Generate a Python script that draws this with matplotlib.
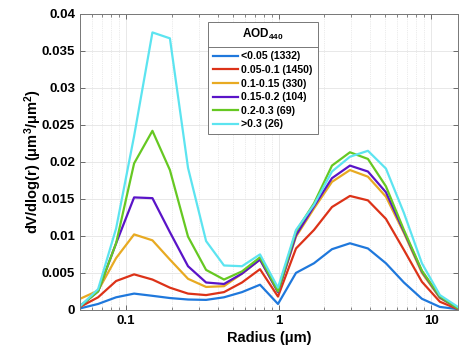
import matplotlib

matplotlib.use("Agg")

import matplotlib.pyplot as plt
from matplotlib.lines import Line2D
from matplotlib.ticker import LogLocator, FixedLocator, NullFormatter

plt.rcParams["font.family"] = ["Liberation Sans", "DejaVu Sans"]
plt.rcParams["font.weight"] = "bold"
plt.rcParams["mathtext.fontset"] = "custom"
plt.rcParams["mathtext.rm"] = "Liberation Sans:bold"
plt.rcParams["mathtext.bf"] = "Liberation Sans:bold"
plt.rcParams["mathtext.default"] = "bf"

# AERONET radius bins (um)
radius = [0.05, 0.0656, 0.0861, 0.113, 0.149, 0.194, 0.255, 0.335, 0.439, 0.576, 0.756,
          0.992, 1.302, 1.708, 2.241, 2.94, 3.857, 5.061, 6.641, 8.713, 11.43, 15.0]

aod_lt005 = [0.0002, 0.0008, 0.0017, 0.0022, 0.0019, 0.0016, 0.0014, 0.00135, 0.0017, 0.0024, 0.0034,
             0.0008, 0.0050, 0.0063, 0.0082, 0.0090, 0.0083, 0.0063, 0.0037, 0.0015, 0.0004, 0.0001]
aod_005_01 = [0.0004, 0.0017, 0.0039, 0.0048, 0.0041, 0.0030, 0.0022, 0.0020, 0.0024, 0.0037, 0.0055,
              0.0018, 0.0083, 0.0108, 0.0139, 0.0154, 0.0148, 0.0123, 0.0081, 0.0038, 0.0011, 0.0001]
aod_01_015 = [0.0015, 0.0026, 0.0070, 0.0102, 0.0094, 0.0068, 0.0042, 0.0031, 0.0032, 0.0049, 0.0068,
              0.0024, 0.0099, 0.0137, 0.0173, 0.0189, 0.0180, 0.0153, 0.0104, 0.0050, 0.0016, 0.0002]
aod_015_02 = [0.0005, 0.0025, 0.0090, 0.0152, 0.0151, 0.0105, 0.0059, 0.0037, 0.0035, 0.0049, 0.0068,
              0.0024, 0.0101, 0.0140, 0.0178, 0.0195, 0.0187, 0.0159, 0.0106, 0.0052, 0.0017, 0.0002]
aod_02_03 = [0.0005, 0.0025, 0.0090, 0.0198, 0.0242, 0.0189, 0.0099, 0.0054, 0.0041, 0.0052, 0.0071,
             0.0025, 0.0106, 0.0144, 0.0195, 0.0213, 0.0204, 0.0167, 0.0108, 0.0053, 0.0018, 0.0002]
aod_gt03 = [0.0005, 0.0028, 0.0110, 0.0235, 0.0375, 0.0367, 0.0192, 0.0093, 0.0060, 0.0059, 0.0075,
            0.0030, 0.0108, 0.0142, 0.0187, 0.0207, 0.0215, 0.0191, 0.0131, 0.0063, 0.0020, 0.0004]

labels = ["<0.05 (1332)", "0.05-0.1 (1450)", "0.1-0.15 (330)",
          "0.15-0.2 (104)", "0.2-0.3 (69)", ">0.3 (26)"]
series = [aod_lt005, aod_005_01, aod_01_015, aod_015_02, aod_02_03, aod_gt03]
colors = ["#1f78dc", "#dc3218", "#e8aa22", "#5a14c8", "#66c822", "#5ce4f0"]

y_ticks = [0, 0.005, 0.01, 0.015, 0.02, 0.025, 0.03, 0.035, 0.04]
y_tick_labels = ["0", "0.005", "0.01", "0.015", "0.02", "0.025", "0.03", "0.035", "0.04"]

fig = plt.figure(figsize=(4.74, 3.57), dpi=100)
ax = fig.add_axes([0.169, 0.132, 0.797, 0.829])

for vals, lab, col in zip(series, labels, colors):
    ax.plot(radius, vals, color=col, lw=1.6, label=lab)

ax.set_xscale("log")
ax.set_xlim(0.05, 15)
ax.set_ylim(0, 0.04)
ax.yaxis.set_major_locator(FixedLocator(y_ticks))
ax.set_yticklabels(y_tick_labels)
ax.xaxis.set_major_locator(FixedLocator([0.1, 1, 10]))
ax.set_xticklabels(["0.1", "1", "10"])
ax.xaxis.set_minor_locator(LogLocator(base=10, subs=range(2, 10)))
ax.xaxis.set_minor_formatter(NullFormatter())

ax.grid(True, which="major", color="#e4e4e4", lw=0.6)
ax.grid(True, which="minor", axis="x", color="#d8d8d8", lw=0.5, ls=":")
ax.set_axisbelow(True)

ax.tick_params(which="both", direction="in", top=True, right=True, colors="#555555",
               labelcolor="black", labelsize=9.5)
ax.tick_params(which="major", length=3.5, width=0.6)
ax.tick_params(which="minor", length=2, width=0.5)
for sp in ax.spines.values():
    sp.set_color("#777777")
    sp.set_linewidth(0.7)

ax.set_xlabel("Radius (μm)", fontsize=10.5, fontweight="bold", labelpad=3)
ax.set_ylabel("dV/dlog(r) (μm$^3$/μm$^2$)", fontsize=10.5, fontweight="bold", labelpad=-1.5)

leg = ax.legend(title="AOD$_{440}$", loc="upper left", bbox_to_anchor=(0.339, 0.973),
                borderaxespad=0, fancybox=False, edgecolor="#777777", framealpha=1,
                fontsize=7.6, title_fontsize=8.5, handlelength=2.4, handletextpad=0.3,
                labelspacing=0.34, borderpad=0.45)
leg.get_frame().set_linewidth(0.7)
leg.get_title().set_fontweight("bold")
# more room between title and entries, like the boxed header
leg._legend_box.sep = 7

# separator line between legend title and entries
fig.canvas.draw()
renderer = fig.canvas.get_renderer()
fb = leg.get_frame().get_window_extent()
tb = leg.get_title().get_window_extent()
hb = leg._legend_handle_box.get_window_extent(renderer)
inv = fig.transFigure.inverted()
ysep = (tb.y0 + hb.y1) / 2
(x0, y0), (x1, _) = inv.transform([(fb.x0, ysep), (fb.x1, ysep)])
fig.add_artist(Line2D([x0, x1], [y0, y0], color="#777777", lw=0.7))

fig.savefig("out.png", dpi=100)
